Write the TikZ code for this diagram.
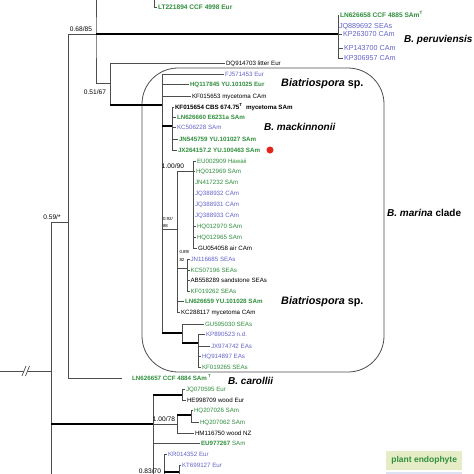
\documentclass[tikz,border=0pt]{standalone}
\usepackage{fontspec}
\setmainfont{Liberation Sans}
\setsansfont{Liberation Sans}
\usepackage{xcolor}
\definecolor{grnc}{HTML}{2F8F3D}
\definecolor{bluc}{HTML}{6464C8}
\definecolor{linec}{HTML}{4D4D4D}
\definecolor{dotc}{HTML}{E3241B}
\definecolor{legc}{HTML}{E6EDC6}
\definecolor{legbc}{HTML}{DDE3F3}

\begin{document}
\begin{tikzpicture}[x=1pt, y=-1pt, font=\sffamily,
  br/.style={linec, line width=0.9pt},
  thk/.style={black, line width=2.8pt},
  tip/.style={anchor=west, inner sep=0.8pt, text height=4.4pt, text depth=0pt, font=\sffamily\fontsize{6.2}{7}\selectfont},
  tipb/.style={tip, font=\sffamily\bfseries\fontsize{6.2}{7}\selectfont},
  tipl/.style={tip, text height=5.2pt, font=\sffamily\fontsize{7.2}{8}\selectfont},
  tiplb/.style={tipl, font=\sffamily\bfseries\fontsize{6.6}{8}\selectfont},
  supp/.style={inner sep=0.5pt, font=\sffamily\fontsize{6.6}{7}\selectfont},
  suppt/.style={anchor=west, inner sep=0.3pt, font=\sffamily\fontsize{4.4}{5}\selectfont},
  taxon/.style={anchor=west, inner sep=0pt, font=\sffamily\bfseries\fontsize{10}{12}\selectfont}]
  \useasboundingbox (0,0) rectangle (474,474);
  \fill[white] (0,0) rectangle (474,474);

  % B. marina clade box
  \draw[linec, line width=0.8pt, rounded corners=36pt] (142,68) rectangle (384,372);

  % internal nodes
  \coordinate (rt) at (0,371);
  \coordinate (n0) at (51,222);
  \coordinate (n0e) at (51,474);
  \coordinate (n1) at (68,222);
  \coordinate (n2) at (96,34);
  \coordinate (n2t) at (96,0);
  \coordinate (n3) at (110,83);
  \coordinate (n4) at (162,105);
  \coordinate (n5) at (172,126);
  \coordinate (n6) at (177,229);
  \coordinate (n7) at (193,171);
  \coordinate (n8) at (187,268);
  \coordinate (n9) at (182,333);
  \coordinate (n10) at (198,343);
  \coordinate (pe) at (338,34);
  \coordinate (lt0) at (154,0);
  \coordinate (n11) at (153,424);
  \coordinate (n11e) at (153,474);
  \coordinate (n12) at (182,395);
  \coordinate (n13) at (177,424);
  \coordinate (n14) at (191,415);
  \coordinate (n15) at (164,472);
  \coordinate (n15e) at (164,474);
  \coordinate (n16) at (179,472);
  \coordinate (n16e) at (179,474);

  % root stem with break
  \draw[br] (rt) -- (n0 |- rt);
  \fill[white] (22,376) -- (26,366) -- (29.5,366) -- (25.5,376) -- cycle;
  \draw[linec, line width=0.7pt] (22,376) -- (26,366) (25.5,376) -- (29.5,366);
  \draw[br] (n0) -- (n0e);
  \draw[br] (n0) -- (n1);
  \draw[br] (n2) -| (n1);
  \node[supp, anchor=south] (s059) at (52,220) {0.59/*};
  \node[supp, anchor=south] (s068) at (81,32) {0.68/85};
  \node[supp, anchor=north] (s051) at (95,89) {0.51/67};

  % top of tree
  \node[tiplb, text=grnc] (lt) at (157,7) {LT221894 CCF 4998 Eur};
  \draw[br] (lt0) |- (lt.west);
  \draw[br] (n2t) -- (n2) |- (n3);

  % B. peruviensis
  \draw[thk] (n2) -- (pe);
  \foreach \nm/\x/\y/\st/\col/\txt in {ln58/339/15/tiplb/grnc/{LN626658 CCF 4885 SAm\textsuperscript{T}},
      jq92/338/26/tipl/bluc/JQ889692 SEAs, kp70/342/34/tipl/bluc/KP263070 CAm,
      kp00/343/48/tipl/bluc/KP143700 CAm, kp57/343/58/tipl/bluc/KP306957 CAm} {
    \node[\st, text=\col] (\nm) at (\x,\y) {\txt};
    \draw[br] (pe) |- (\nm.west);
  }
  \node[taxon] (bper) at (404,40) {\textit{B. peruviensis}};

  % node 0.51/67
  \node[tip] (dq) at (225,63) {DQ914703 litter Eur};
  \draw[br] (n3) |- (dq.west);
  \draw[br] (n3) -- (n3 |- n4);
  \draw[thk] (n3 |- n4) -- (n4);

  % main spine inside box
  \foreach \nm/\x/\y/\st/\col/\txt in {fj53/224/74/tip/bluc/FJ571453 Eur,
      hq45/189/84/tipb/grnc/HQ117845 YU.101025 Eur, kf53/191/96/tip/black/KF015653 mycetoma CAm} {
    \node[\st, text=\col] (\nm) at (\x,\y) {\txt};
    \draw[br] (n4) |- (\nm.west);
  }
  \node[taxon, font=\sffamily\bfseries\fontsize{10.8}{12}\selectfont] (bsp1) at (281,84) {\textit{Biatriospora} sp.};
  \draw[br] (n4) -- (n4 |- n9);
  \draw[thk] (n4 |- n5) -- (n5);
  \draw[br] (n4 |- n6) -- (n6);
  \draw[thk] (n4 |- n9) -- (n9);

  % B. mackinnonii
  \foreach \nm/\x/\y/\st/\col/\txt in {kf54/174/107/tipb/black/{KF015654 CBS 674.75\textsuperscript{T}\ \ mycetoma SAm},
      ln60/176/117/tipb/grnc/LN626660 E6231a SAm, kc28/176/127/tip/bluc/KC506228 SAm,
      jn59/178/139/tipb/grnc/JN545759 YU.101027 SAm, jx63/177/150/tipb/grnc/JX264157.2 YU.100463 SAm} {
    \node[\st, text=\col] (\nm) at (\x,\y) {\txt};
    \draw[br] (n5) |- (\nm.west);
  }
  \node[circle, fill=dotc, inner sep=0pt, minimum size=7pt] (dot) at (270,150) {};
  \node[taxon] (bmack) at (264,127) {\textit{B. mackinnonii}};

  % node 0.92/88
  \node[suppt] (s092) at (162.5,219) {0.92/};
  \node[suppt] (s088) at (162.5,226) {88};
  \draw[br] (n6) |- (n7);
  \draw[br] (n6) |- (n8);
  \node[supp, anchor=south] (s100a) at (173,169.5) {1.00/90};
  \foreach \nm/\x/\y/\col/\txt in {eu09/196/161/grnc/EU002909 Hawaii, hq69/195/171/grnc/HQ012969 SAm,
      jn32/194/182/grnc/JN417232 SAm, jq32/194/193/bluc/JQ388932 CAm, jq31/194/204/bluc/JQ388931 CAm,
      jq33/194/215/bluc/JQ388933 CAm, hq70/196/226/grnc/HQ012970 SAm, hq65/196/237/grnc/HQ012965 SAm,
      gu58/197/248/black/GU054058 air CAm} {
    \node[tip, text=\col] (\nm) at (\x,\y) {\txt};
    \draw[br] (n7) |- (\nm.west);
  }
  \node[suppt] (s089) at (179,252) {0.89/};
  \node[suppt] (s082) at (179,260) {82};
  \foreach \nm/\y/\col/\txt in {jn85/259/bluc/JN116685 SEAs, kc96/270/grnc/KC507196 SEAs,
      ab89/280/black/AB558289 sandstone SEAs, kf62/291/grnc/KF019262 SEAs} {
    \node[tip, text=\col] (\nm) at (189.5,\y) {\txt};
    \draw[br] (n8) |- (\nm.west);
  }
  \node[tipb, text=grnc] (ln59) at (184,301) {LN626659 YU.101028 SAm};
  \draw[br] (n6) |- (ln59.west);
  \node[taxon, font=\sffamily\bfseries\fontsize{10.8}{12}\selectfont] (bsp2) at (281,302) {\textit{Biatriospora} sp.};
  \node[tip] (kc17) at (180,312) {KC288117 mycetoma CAm};
  \draw[br] (n6) |- (kc17.west);

  % lower clade in box
  \node[tip, text=grnc] (gu30) at (204,324) {GU595030 SEAs};
  \draw[br] (n9) |- (gu30.west);
  \draw[br] (n9) -- (n9 |- n10);
  \draw[thk] (n9 |- n10) -- (n10);
  \foreach \nm/\x/\y/\col/\txt in {kp23/205/334/bluc/KP890523 n.d., jx42/210/346/bluc/JX974742 EAs,
      hq97/201/356/bluc/HQ914897 EAs, kf65/201/367/grnc/KF019265 SEAs} {
    \node[tip, text=\col] (\nm) at (\x,\y) {\txt};
    \draw[br] (n10) |- (\nm.west);
  }
  \node[taxon] (bmar) at (387,213) {\textit{B. marina} clade};

  % B. carollii
  \node[tipb, text=grnc, inner xsep=10pt] (lnc) at (122,378) {LN626657 CCF 4884 SAm\,\textsuperscript{T}};
  \draw[br] (n1) |- (lnc.west);
  \node[taxon] (bcar) at (228,381) {\textit{B. carollii}};

  % bottom clades
  \draw[thk] (n0 |- n11) -- (n11);
  \draw[br] (n11 |- n12) -- (n11e);
  \draw[thk] (n11 |- n12) -- (n12);
  \draw[br] (n11) -- (n13);
  \node[supp, anchor=south] (s100b) at (164,422) {1.00/78};
  \foreach \nm/\x/\y/\col/\txt in {jq95/185/389/grnc/JQ070595 Eur, he09/186/400/black/HE998709 wood Eur} {
    \node[tip, text=\col] (\nm) at (\x,\y) {\txt};
    \draw[br] (n12) |- (\nm.west);
  }
  \draw[br] (n13) -- (n13 |- n14);
  \draw[thk] (n13 |- n14) -- (n14);
  \foreach \nm/\x/\y/\txt in {hq26/193/410/HQ207026 SAm, hq62/199/422/HQ207062 SAm} {
    \node[tip, text=grnc] (\nm) at (\x,\y) {\txt};
    \draw[br] (n14) |- (\nm.west);
  }
  \node[tip] (hm50) at (194,433) {HM116750 wood NZ};
  \draw[br] (n13) |- (hm50.west);
  \node[tip, text=grnc] (eu67) at (200,443) {\textbf{EU977267} SAm};
  \draw[br] (n11) |- (eu67.west);
  \node[tip, text=bluc] (kr52) at (167,454) {KR014352 Eur};
  \draw[br] (n15) |- (kr52.west);
  \draw[br] (n15) -- (n15e);
  \draw[thk] (n15) -- (n16);
  \node[tip, text=bluc] (kt27) at (181,465) {KT699127 Eur};
  \draw[br] (n16) |- (kt27.west);
  \draw[br] (n16) -- (n16e);
  \node[supp, anchor=base] (s083) at (150,473.5) {0.83/70};

  % legend
  \node[anchor=north west, fill=legc, minimum width=76pt, minimum height=19pt, inner sep=0pt,
    text=grnc, font=\sffamily\bfseries\fontsize{8.5}{10}\selectfont] (leg1) at (386,451) {plant endophyte};
  \node[anchor=north west, fill=legbc, minimum width=76pt, minimum height=8pt, inner sep=0pt] (leg2) at (386,472) {};
\end{tikzpicture}
\end{document}
